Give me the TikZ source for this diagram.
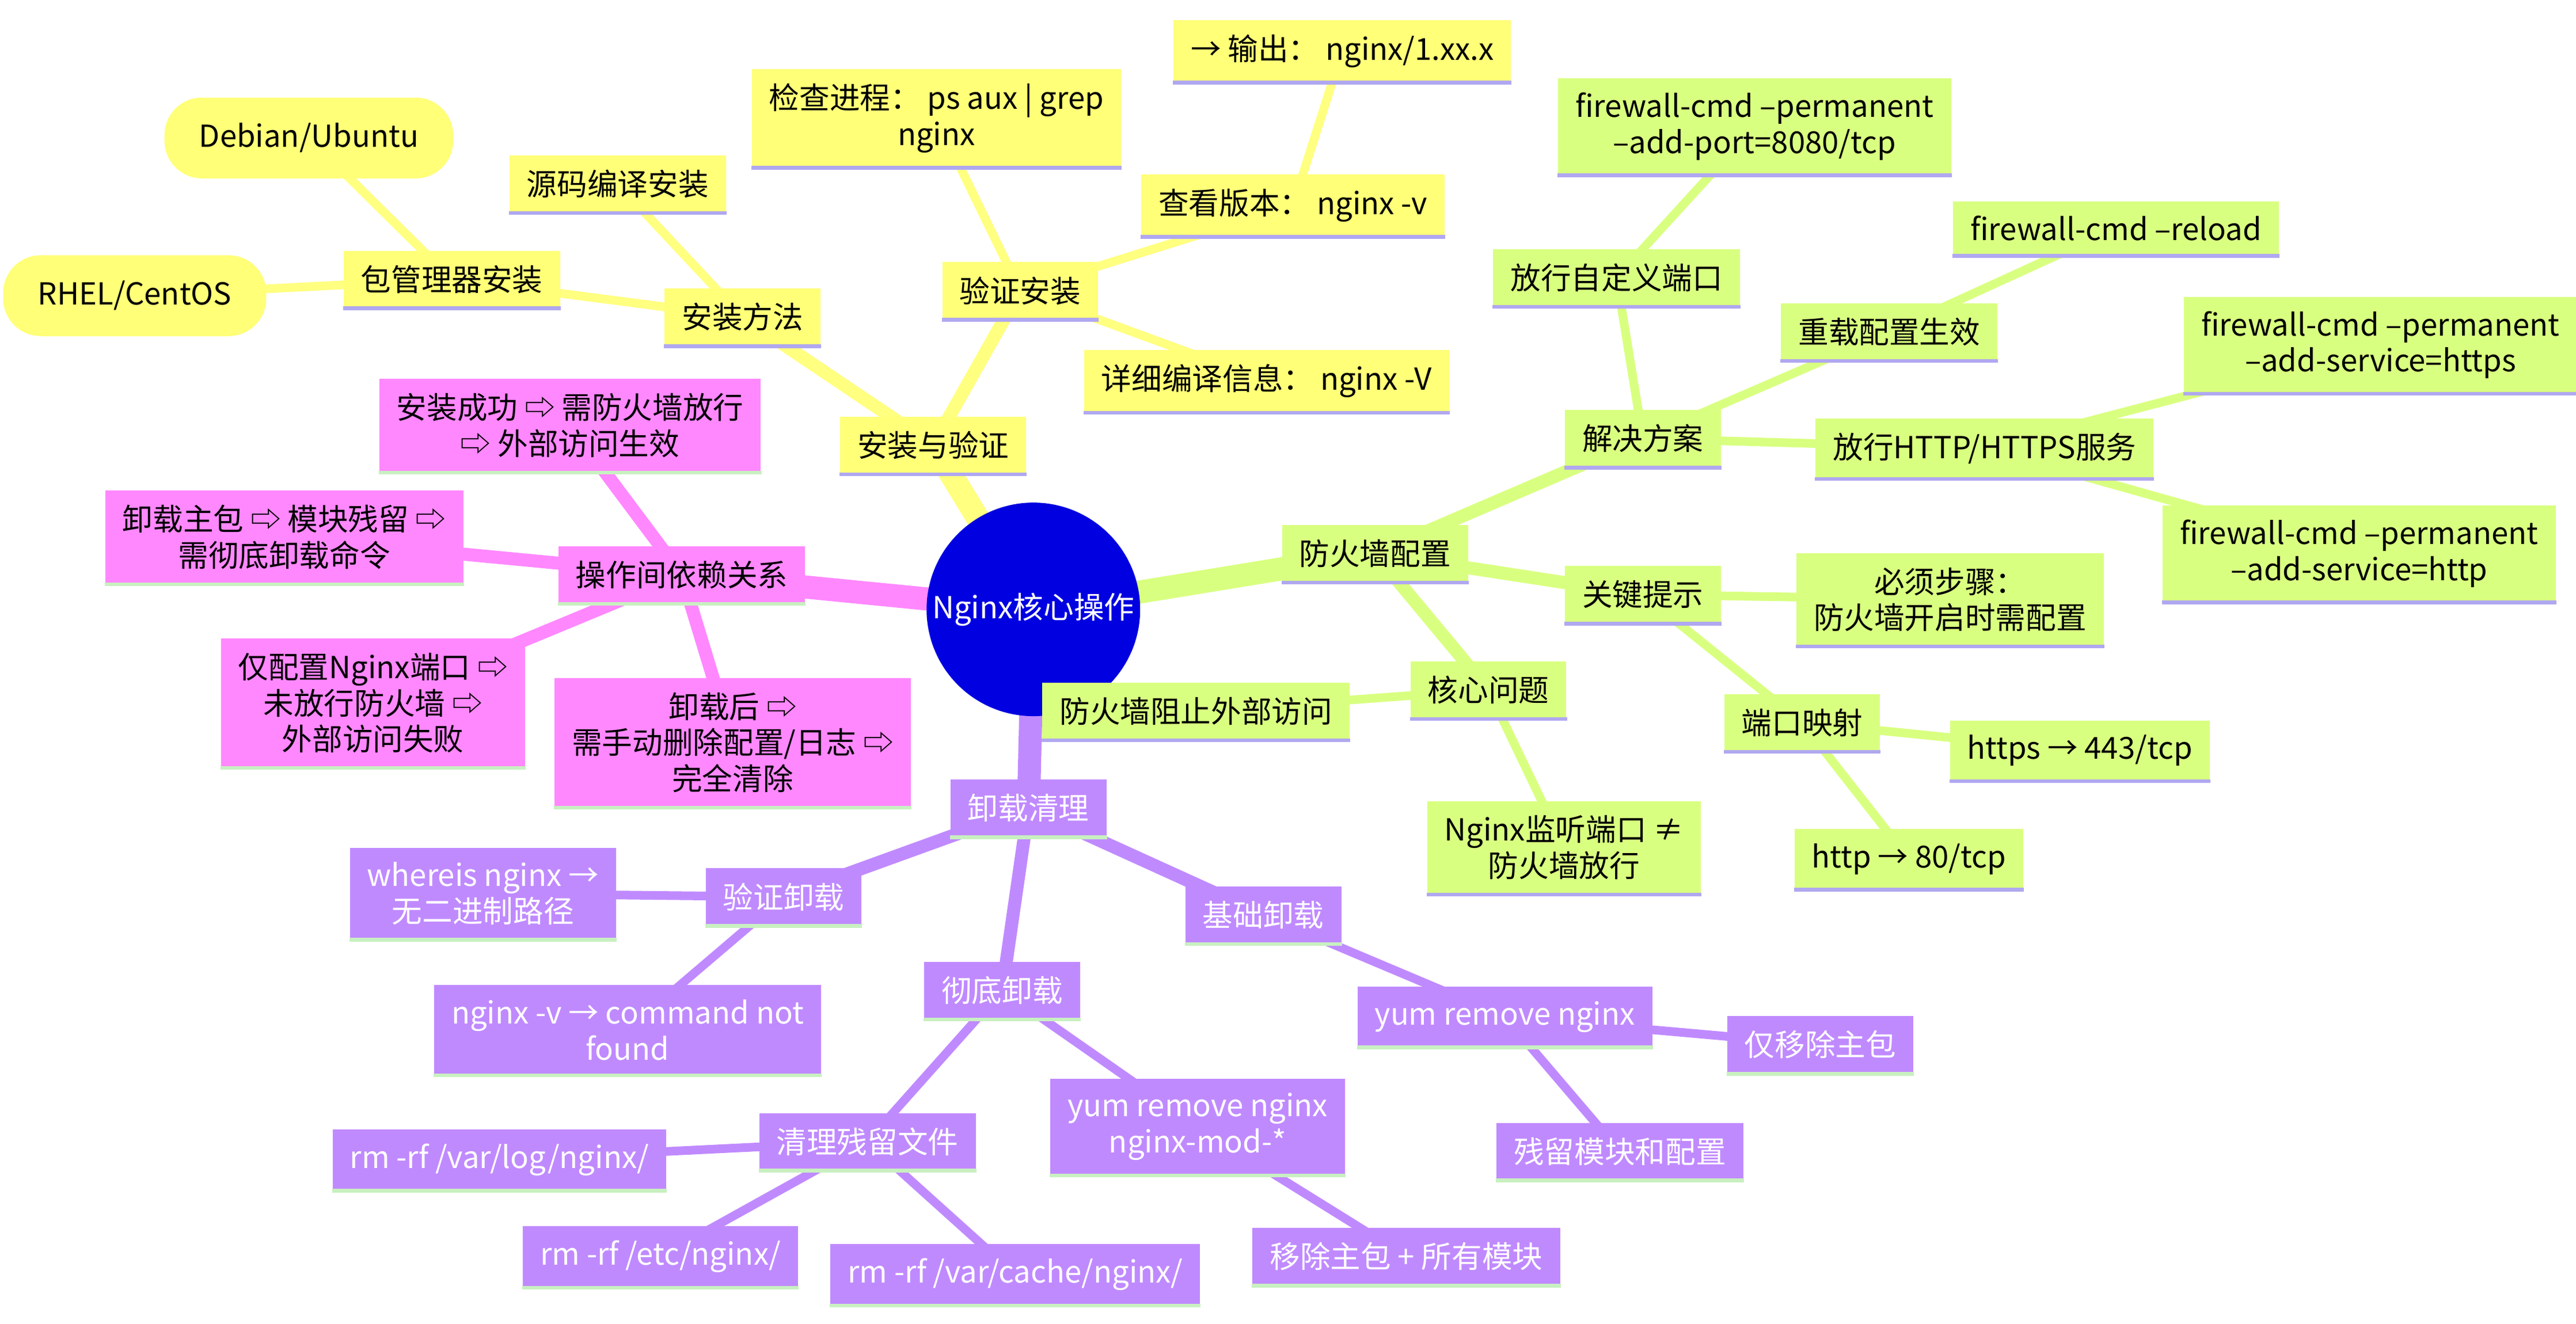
\documentclass[tikz,border=0pt]{standalone}
\usepackage{fontspec}
\setmainfont{Noto Sans CJK SC}
\usetikzlibrary{backgrounds}
\definecolor{cY}{HTML}{FFFF78}\definecolor{eY}{HTML}{FFFF80}
\definecolor{cG}{HTML}{D9FF80}\definecolor{eG}{HTML}{D9FF80}
\definecolor{cP}{HTML}{FF88FF}\definecolor{eP}{HTML}{FF88FF}
\definecolor{cV}{HTML}{C08AFF}\definecolor{eV}{HTML}{C08AFF}
\definecolor{lav}{HTML}{B0A8F0}\definecolor{lgr}{HTML}{C8F0C0}
\begin{document}
\begin{tikzpicture}[x=0.02cm,y=-0.02cm,font=\fontsize{10.5}{12.5}\selectfont,
 base/.style={rectangle,inner xsep=6pt,inner ysep=5pt,align=center},
 ub/.style={append after command={(\tikzlastnode.south west) edge[draw=#1,line width=1.3pt] (\tikzlastnode.south east)}},
 ny/.style={base,fill=cY,ub=lav},
 yp/.style={base,fill=cY,rounded corners=13pt,minimum height=28pt,inner xsep=12pt},
 ng/.style={base,fill=cG,ub=lav},
 np/.style={base,fill=cP,ub=lgr},
 nv/.style={base,fill=cV,text=white,ub=lgr},
 l1/.style={line width=8pt},l2/.style={line width=4.5pt},l3/.style={line width=3pt}]
\useasboundingbox (0,0) rectangle (1568,806);
\node[circle,fill=blue!88!black,text=white,minimum size=74pt,inner sep=0] (root) at (629,371) {Nginx核心操作};
% yellow
\node[ny] (a) at (568,271) {安装与验证};
\node[ny] (a1) at (452,193) {安装方法};
\node[ny] (a11) at (275,170) {包管理器安装};
\node[yp] (a111) at (188,84) {Debian/Ubuntu};
\node[yp] (a112) at (82,180) {RHEL/CentOS};
\node[ny] (a12) at (376,112) {源码编译安装};
\node[ny] (a2) at (621,177) {验证安装};
\node[ny] (a21) at (570,72) {检查进程： ps aux | grep\\nginx};
\node[ny] (a22) at (787,125) {查看版本： nginx -v};
\node[ny] (a221) at (817,31) {→ 输出： nginx/1.xx.x};
\node[ny] (a23) at (771,232) {详细编译信息： nginx -V};
% green
\node[ng] (b) at (837,337) {防火墙配置};
\node[ng] (b1) at (1000,267) {解决方案};
\node[ng] (b11) at (984,169) {放行自定义端口};
\node[ng] (b111) at (1068,77) {firewall-cmd --permanent\\--add-port=8080/tcp};
\node[ng] (b12) at (1150,202) {重载配置生效};
\node[ng] (b121) at (1288,139) {firewall-cmd --reload};
\node[ng] (b13) at (1208,273) {放行HTTP/HTTPS服务};
\node[ng] (b131) at (1449,210) {firewall-cmd --permanent\\--add-service=https};
\node[ng] (b132) at (1436,337) {firewall-cmd --permanent\\--add-service=http};
\node[ng] (b2) at (1000,362) {关键提示};
\node[ng] (b21) at (1187,365) {必须步骤：\\防火墙开启时需配置};
\node[ng] (b22) at (1097,440) {端口映射};
\node[ng] (b221) at (1266,457) {https → 443/tcp};
\node[ng] (b222) at (1162,523) {http → 80/tcp};
\node[ng] (b3) at (906,420) {核心问题};
\node[ng] (b31) at (728,433) {防火墙阻止外部访问};
\node[ng] (b32) at (952,516) {Nginx监听端口 ≠\\防火墙放行};
% pink
\node[np] (c) at (415,350) {操作间依赖关系};
\node[np] (c1) at (347,259) {安装成功 ⇨ 需防火墙放行\\⇨ 外部访问生效};
\node[np] (c2) at (173,327) {卸载主包 ⇨ 模块残留 ⇨\\需彻底卸载命令};
\node[np] (c3) at (227,428) {仅配置Nginx端口 ⇨\\未放行防火墙 ⇨\\外部访问失败};
\node[np] (c4) at (446,452) {卸载后 ⇨\\需手动删除配置/日志 ⇨\\完全清除};
% purple
\node[nv] (d) at (626,492) {卸载清理};
\node[nv] (d1) at (477,546) {验证卸载};
\node[nv] (d11) at (294,544) {whereis nginx →\\无二进制路径};
\node[nv] (d12) at (382,627) {nginx -v → command not\\found};
\node[nv] (d2) at (610,603) {彻底卸载};
\node[nv] (d21) at (528,695) {清理残留文件};
\node[nv] (d211) at (304,706) {rm -rf /var/log/nginx/};
\node[nv] (d212) at (402,765) {rm -rf /etc/nginx/};
\node[nv] (d213) at (618,776) {rm -rf /var/cache/nginx/};
\node[nv] (d22) at (729,686) {yum remove nginx\\nginx-mod-*};
\node[nv] (d221) at (856,765) {移除主包 + 所有模块};
\node[nv] (d3) at (769,557) {基础卸载};
\node[nv] (d31) at (916,619) {yum remove nginx};
\node[nv] (d311) at (1108,636) {仅移除主包};
\node[nv] (d312) at (986,701) {残留模块和配置};
\begin{scope}[on background layer]
\draw[eY,l1] (root.center)--(a.center);
\draw[eY,l2] (a.center)--(a1.center) (a.center)--(a2.center);
\draw[eY,l3] (a1.center)--(a11.center) (a1.center)--(a12.center) (a11.center)--(a111.center) (a11.center)--(a112.center)
 (a2.center)--(a21.center) (a2.center)--(a22.center) (a2.center)--(a23.center) (a22.center)--(a221.center);
\draw[eG,l1] (root.center)--(b.center);
\draw[eG,l2] (b.center)--(b1.center) (b.center)--(b2.center) (b.center)--(b3.center);
\draw[eG,l3] (b1.center)--(b11.center) (b1.center)--(b12.center) (b1.center)--(b13.center) (b11.center)--(b111.center)
 (b12.center)--(b121.center) (b13.center)--(b131.center) (b13.center)--(b132.center) (b2.center)--(b21.center)
 (b2.center)--(b22.center) (b22.center)--(b221.center) (b22.center)--(b222.center) (b3.center)--(b31.center) (b3.center)--(b32.center);
\draw[eP,l1] (root.center)--(c.center);
\draw[eP,l2] (c.center)--(c1.center) (c.center)--(c2.center) (c.center)--(c3.center) (c.center)--(c4.center);
\draw[eV,l1] (root.center)--(d.center);
\draw[eV,l2] (d.center)--(d1.center) (d.center)--(d2.center) (d.center)--(d3.center);
\draw[eV,l3] (d1.center)--(d11.center) (d1.center)--(d12.center) (d2.center)--(d21.center) (d2.center)--(d22.center)
 (d21.center)--(d211.center) (d21.center)--(d212.center) (d21.center)--(d213.center) (d22.center)--(d221.center)
 (d3.center)--(d31.center) (d31.center)--(d311.center) (d31.center)--(d312.center);
\end{scope}
\end{tikzpicture}
\end{document}
